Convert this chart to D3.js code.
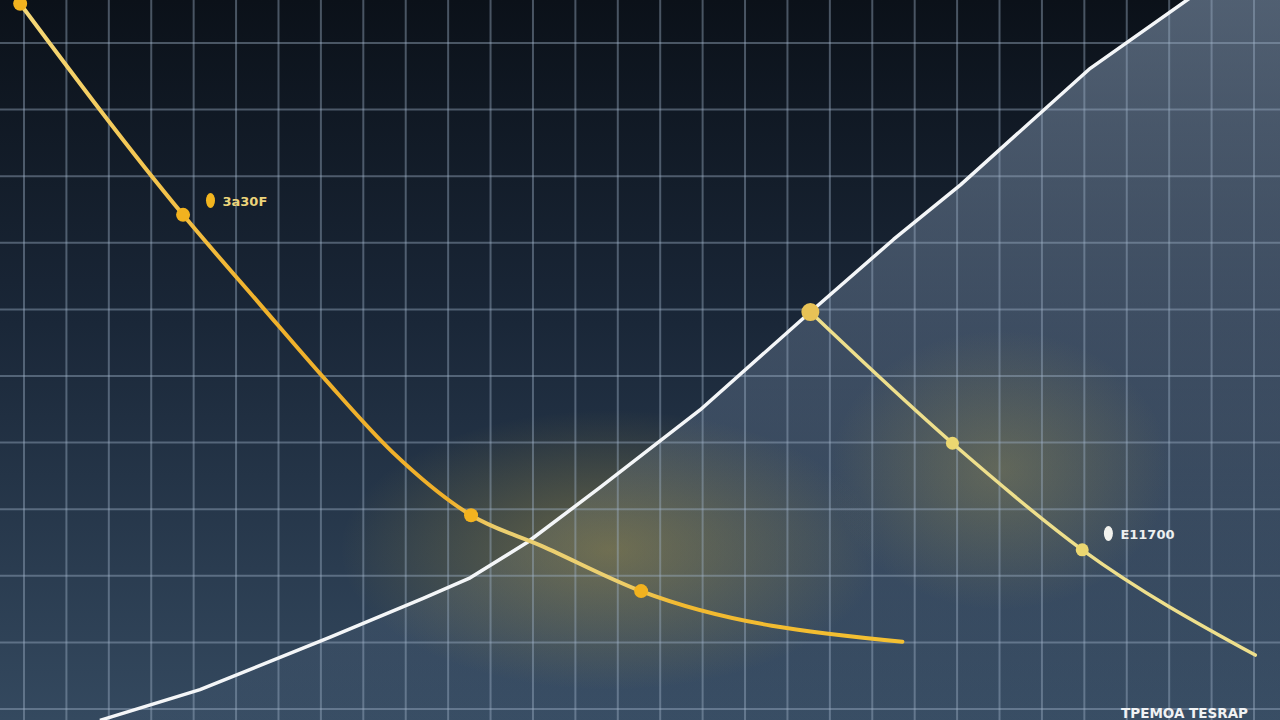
<!DOCTYPE html>
<html><head><meta charset="utf-8">
<script src="https://cdn.jsdelivr.net/npm/d3@7"></script>
<style>html,body{margin:0;padding:0;background:#0d141d;}svg{display:block;}</style>
</head><body>
<svg id="c" width="1280" height="720"></svg>
<script>
// ---- data (grid units) ----
const gridCols = d3.range(0, 30);          // vertical grid lines
const gridRows = d3.range(0, 11);          // horizontal grid lines

const seriesA_x = [-0.09, 3.75, 5.60, 7.10, 8.70, 10.54, 12.2, 14.55, 20.71];
const seriesA_y = [10.59, 7.42, 6.05, 4.95, 3.85, 2.91, 2.45, 1.77, 1.01];
const seriesA_markers_x = [-0.09, 3.75, 10.54, 14.55];
const seriesA_markers_y = [10.59, 7.42, 2.91, 1.77];

const seriesW_x = [1.79, 4.15, 7.22, 9.41, 10.52, 11.86, 13.59, 15.94, 18.54, 20.5, 22.08, 25.14, 27.5];
const seriesW_y = [-0.17, 0.29, 1.08, 1.66, 1.97, 2.50, 3.33, 4.49, 5.96, 7.05, 7.87, 9.62, 10.68];

const seriesB_x = [18.54, 21.89, 24.95, 29.03];
const seriesB_y = [5.96, 3.99, 2.39, 0.81];
const seriesB_markers_x = [18.54, 21.89, 24.95];
const seriesB_markers_y = [5.96, 3.99, 2.39];

const labels = ["3a30F", "E11700"];
const labelPos_x = [4.68, 25.85];
const labelPos_y = [7.65, 2.65];
const footer = "TPEMOA TESRAP";

// ---- scales ----
const W = 1280, H = 720;
const x = d3.scaleLinear().domain([0, 29]).range([24, 1254]);
const y = d3.scaleLinear().domain([0, 10]).range([709, 43]);

const svg = d3.select("#c");
const defs = svg.append("defs");

const bg = defs.append("linearGradient").attr("id","bg").attr("x1",0).attr("y1",0).attr("x2",0).attr("y2",1);
bg.append("stop").attr("offset","0%").attr("stop-color","#0b1119");
bg.append("stop").attr("offset","45%").attr("stop-color","#1a2738");
bg.append("stop").attr("offset","100%").attr("stop-color","#34495f");

const lite = defs.append("linearGradient").attr("id","lite").attr("x1",0).attr("y1",0).attr("x2",0).attr("y2",1);
lite.append("stop").attr("offset","0%").attr("stop-color","#8aa0bb").attr("stop-opacity",0.55);
lite.append("stop").attr("offset","60%").attr("stop-color","#7d92ad").attr("stop-opacity",0.28);
lite.append("stop").attr("offset","100%").attr("stop-color","#6d82a0").attr("stop-opacity",0.08);

function glow(id, color, op){
  const g = defs.append("radialGradient").attr("id",id);
  g.append("stop").attr("offset","0%").attr("stop-color",color).attr("stop-opacity",op);
  g.append("stop").attr("offset","100%").attr("stop-color",color).attr("stop-opacity",0);
}
glow("glow1","#c9a93a",0.38);
glow("glow2","#c9b04a",0.28);

const lgA = defs.append("linearGradient").attr("id","lgA").attr("gradientUnits","userSpaceOnUse")
  .attr("x1",0).attr("y1",0).attr("x2",W).attr("y2",0);
[["0%","#f5dc80"],["13%","#f3c24a"],["20%","#f0b22c"],["35%","#f0b02a"],["39%","#eccf70"],["48%","#ecd070"],["53%","#f2b930"],["75%","#f4c232"]]
  .forEach(s=>lgA.append("stop").attr("offset",s[0]).attr("stop-color",s[1]));

svg.append("rect").attr("width",W).attr("height",H).attr("fill","url(#bg)");

// light region right of the white line
const areaPts = seriesW_x.map((d,i)=>[x(d), y(seriesW_y[i])]);
const poly = [[areaPts[0][0], H]].concat(areaPts).concat([[W,0],[W,H]]);
svg.append("path").attr("d", d3.line().curve(d3.curveLinear)(poly)).attr("fill","url(#lite)");

// glows
svg.append("ellipse").attr("cx",610).attr("cy",550).attr("rx",270).attr("ry",140).attr("fill","url(#glow1)");
svg.append("ellipse").attr("cx",1000).attr("cy",470).attr("rx",170).attr("ry",140).attr("fill","url(#glow2)");

// grid
const grid = svg.append("g").attr("stroke","#9fb2c8").attr("stroke-opacity",0.42).attr("stroke-width",2);
grid.selectAll("line.v").data(gridCols).join("line").attr("class","v")
  .attr("x1",d=>x(d)).attr("x2",d=>x(d)).attr("y1",0).attr("y2",H);
grid.selectAll("line.h").data(gridRows).join("line").attr("class","h")
  .attr("y1",d=>y(d)).attr("y2",d=>y(d)).attr("x1",0).attr("x2",W);

// lines
const line = d3.line().x(d=>x(d[0])).y(d=>y(d[1])).curve(d3.curveMonotoneX);
svg.append("path").datum(seriesW_x.map((d,i)=>[d,seriesW_y[i]]))
  .attr("d", d3.line().x(d=>x(d[0])).y(d=>y(d[1])).curve(d3.curveLinear))
  .attr("fill","none").attr("stroke","#f4f6f8").attr("stroke-width",3.5).attr("stroke-linejoin","round");

svg.append("path").datum(seriesA_x.map((d,i)=>[d,seriesA_y[i]]))
  .attr("d", line).attr("fill","none").attr("stroke","url(#lgA)").attr("stroke-width",4).attr("stroke-linecap","round");

svg.append("path").datum(seriesB_x.map((d,i)=>[d,seriesB_y[i]]))
  .attr("d", line).attr("fill","none").attr("stroke","#eedf8c").attr("stroke-width",3.5).attr("stroke-linecap","round");

// markers
svg.selectAll("circle.a").data(seriesA_markers_x).join("circle").attr("class","a")
  .attr("cx",d=>x(d)).attr("cy",(d,i)=>y(seriesA_markers_y[i])).attr("r",7).attr("fill","#f2b21f");
svg.selectAll("circle.b").data(seriesB_markers_x).join("circle").attr("class","b")
  .attr("cx",d=>x(d)).attr("cy",(d,i)=>y(seriesB_markers_y[i])).attr("r",(d,i)=>i===0?9:6.5)
  .attr("fill",(d,i)=>i===0?"#e8c256":"#ecd771");

// labels
const lblColors = ["#ecd47a","#eef0f0"];
const blobColors = ["#f2b51f","#f2f2ee"];
labels.forEach((t,i)=>{
  const lx = x(labelPos_x[i]), ly = y(labelPos_y[i]);
  svg.append("ellipse").attr("cx",lx-12).attr("cy",ly+1).attr("rx",4.5).attr("ry",7.5).attr("fill",blobColors[i]);
  svg.append("text").attr("x",lx).attr("y",ly+6).text(t)
    .attr("font-family","DejaVu Sans, sans-serif").attr("font-weight","bold").attr("font-size",13)
    .attr("fill",lblColors[i]);
});
svg.append("text").attr("x",1248).attr("y",718).attr("text-anchor","end").text(footer)
  .attr("font-family","DejaVu Sans, sans-serif").attr("font-weight","bold").attr("font-size",13.5)
  .attr("fill","#f0f2f4");
</script>
</body></html>
